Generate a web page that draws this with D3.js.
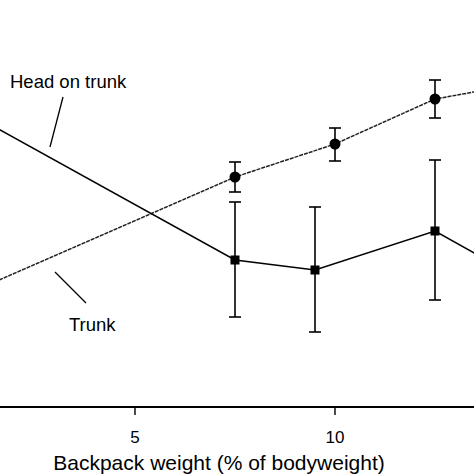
<!DOCTYPE html>
<html>
<head>
<meta charset="utf-8">
<script src="https://cdn.jsdelivr.net/npm/d3@7"></script>
<style>
body { margin: 0; background: #fff; }
text { font-family: "Liberation Sans", Arial, sans-serif; fill: #000; }
</style>
</head>
<body>
<svg width="474" height="474"></svg>
<script>
// data (y in arbitrary units)
const weights = [0, 7.5, 10, 12.5, 15];
const circleMean = [9.9, 23.0, 26.3, 30.8, 32.6];
const circleLo = [null, 21.5, 24.6, 28.9, null];
const circleHi = [null, 24.5, 27.9, 32.7, null];

const squareWeights = [0, 7.5, 9.5, 12.5, 15];
const squareMean = [31.3, 14.7, 13.7, 17.6, 12.0];
const squareLo = [null, 9.0, 7.5, 10.7, null];
const squareHi = [null, 20.5, 20.0, 24.7, null];

const xTicks = [5, 10];

const svg = d3.select("svg");

// scales: 40px per % bodyweight, cropped view
const x = d3.scaleLinear().domain([0, 15]).range([-65, 535]);
const y = d3.scaleLinear().domain([0, 40]).range([407, 7]);

// x axis
svg.append("line")
	.attr("x1", 0).attr("x2", 474)
	.attr("y1", 407).attr("y2", 407)
	.attr("stroke", "#000").attr("stroke-width", 1.8);

xTicks.forEach(t => {
	svg.append("line")
		.attr("x1", x(t)).attr("x2", x(t))
		.attr("y1", 407).attr("y2", 415)
		.attr("stroke", "#000").attr("stroke-width", 1.4);
	svg.append("text")
		.attr("x", x(t)).attr("y", 443)
		.attr("text-anchor", "middle")
		.attr("font-size", 17)
		.text(t);
});

svg.append("text")
	.attr("x", 219).attr("y", 470)
	.attr("text-anchor", "middle")
	.attr("font-size", 21)
	.text("Backpack weight (% of bodyweight)");

const line = d3.line().x(d => x(d[0])).y(d => y(d[1]));

// circle series (fine dashed)
svg.append("path")
	.datum(weights.map((w, i) => [w, circleMean[i]]))
	.attr("d", line)
	.attr("fill", "none")
	.attr("stroke", "#222")
	.attr("stroke-width", 1.5)
	.attr("stroke-dasharray", "4,1");

// square series (solid)
svg.append("path")
	.datum(squareWeights.map((w, i) => [w, squareMean[i]]))
	.attr("d", line)
	.attr("fill", "none")
	.attr("stroke", "#000")
	.attr("stroke-width", 1.5);

// error bars
function errorBars(xs, lo, hi) {
	xs.forEach((w, i) => {
		if (lo[i] == null) return;
		const cx = x(w);
		svg.append("line")
			.attr("x1", cx).attr("x2", cx)
			.attr("y1", y(lo[i])).attr("y2", y(hi[i]))
			.attr("stroke", "#000").attr("stroke-width", 1.6);
		[lo[i], hi[i]].forEach(v => {
			svg.append("line")
				.attr("x1", cx - 6).attr("x2", cx + 6)
				.attr("y1", y(v)).attr("y2", y(v))
				.attr("stroke", "#000").attr("stroke-width", 1.6);
		});
	});
}
errorBars(weights, circleLo, circleHi);
errorBars(squareWeights, squareLo, squareHi);

// markers
weights.forEach((w, i) => {
	svg.append("circle")
		.attr("cx", x(w)).attr("cy", y(circleMean[i]))
		.attr("r", 5.5).attr("fill", "#000");
});
squareWeights.forEach((w, i) => {
	svg.append("rect")
		.attr("x", x(w) - 4.5).attr("y", y(squareMean[i]) - 4.5)
		.attr("width", 9).attr("height", 9)
		.attr("fill", "#000");
});

// labels with leader lines
svg.append("text")
	.attr("x", 10).attr("y", 88)
	.attr("font-size", 18.5)
	.text("Head on trunk");
svg.append("line")
	.attr("x1", 63).attr("y1", 97).attr("x2", 50).attr("y2", 147)
	.attr("stroke", "#000").attr("stroke-width", 1.3);

svg.append("text")
	.attr("x", 69).attr("y", 331)
	.attr("font-size", 18.5)
	.text("Trunk");
svg.append("line")
	.attr("x1", 55).attr("y1", 272).attr("x2", 86).attr("y2", 303)
	.attr("stroke", "#000").attr("stroke-width", 1.3);
</script>
</body>
</html>
